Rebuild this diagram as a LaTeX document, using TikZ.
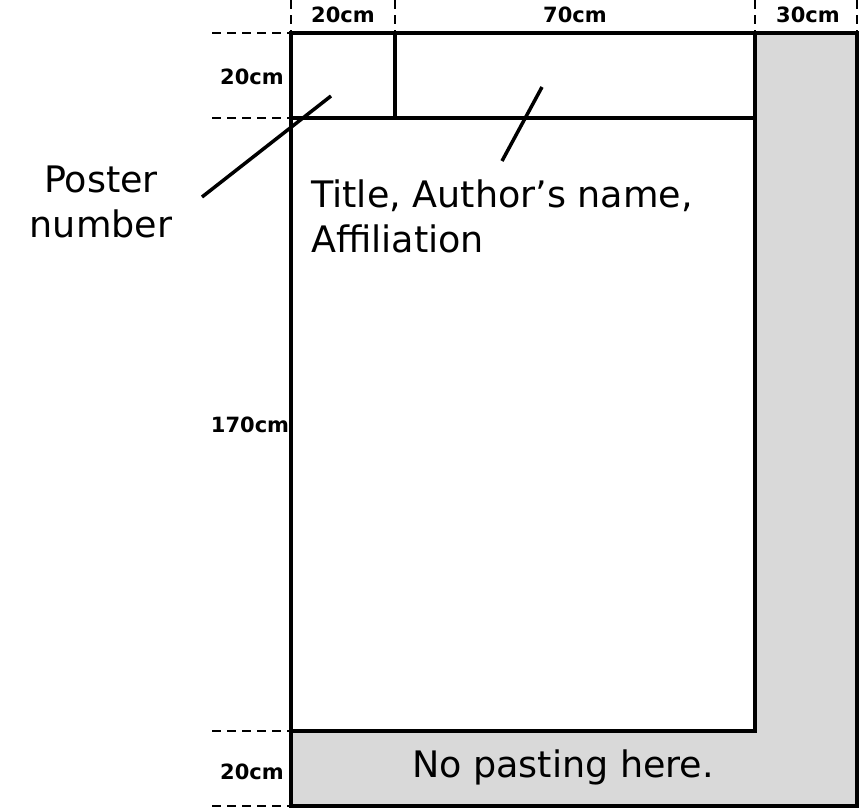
\documentclass[tikz,border=0pt]{standalone}
\usepackage{fontspec}
\setmainfont{DejaVu Sans}
\begin{document}
\begin{tikzpicture}[x=1pt,y=-1pt,
  frame/.style={line width=3.5pt},
  dim/.style={line width=1.8pt, dash pattern=on 9pt off 6pt},
  lead/.style={line width=3.5pt},
  dimlab/.style={font=\fontsize{21}{24}\selectfont\bfseries, inner sep=0pt},
  biglab/.style={font=\fontsize{36.5}{45}\selectfont, inner sep=0pt}]
\useasboundingbox (0,0) rectangle (863,811);
% gray region
\fill[gray!30] (291,33) rectangle (857,806);
\fill[white] (291,33) rectangle (755,731);
\draw[frame] (291,33) rectangle (857,806);
\draw[frame] (291,731) -- (755,731) -- (755,33);
\draw[frame] (291,118) -- (755,118);
\draw[frame] (395,33) -- (395,118);
% dimension dashes
\draw[dim] (291,0) -- (291,33);
\draw[dim] (395,0) -- (395,33);
\draw[dim] (755,0) -- (755,33);
\draw[dim] (857,0) -- (857,33);
\draw[dim] (212,33) -- (291,33);
\draw[dim] (212,118) -- (291,118);
\draw[dim] (212,731) -- (291,731);
\draw[dim] (212,806) -- (291,806);
% dimension labels
\node[dimlab] (d1) at (343,15) {20cm};
\node[dimlab] (d2) at (575,15) {70cm};
\node[dimlab] (d3) at (808,15) {30cm};
\node[dimlab] (d4) at (252,77) {20cm};
\node[dimlab] (d5) at (250,425) {170cm};
\node[dimlab] (d6) at (252,772) {20cm};
% labels
\node[biglab, align=center] (pn) at (101,202) {Poster\\number};
\node[biglab, align=left, anchor=west] (ti) at (311,216) {Title, Author’s name,\\Affiliation};
\node[biglab] (np) at (563,767) {No pasting here.};
% leaders
\coordinate (pa) at (202,197);
\coordinate (pb) at (331,96);
\coordinate (ta) at (502,161);
\coordinate (tb) at (542,87);
\draw[lead] (pa) -- (pb);
\draw[lead] (ta) -- (tb);
\end{tikzpicture}
\end{document}
